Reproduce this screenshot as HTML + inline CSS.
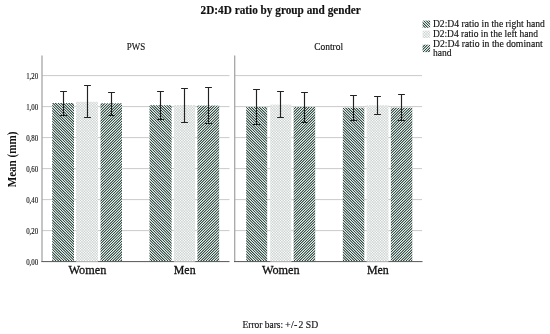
<!DOCTYPE html>
<html><head><meta charset="utf-8"><title>2D:4D ratio by group and gender</title>
<style>
html,body{margin:0;padding:0;background:#fff;}
svg{display:block;font-family:"Liberation Serif","DejaVu Serif",serif;}
</style></head><body>
<svg width="550" height="334" viewBox="0 0 550 334">
<defs>
<pattern id="pa" patternUnits="userSpaceOnUse" width="8" height="8" shape-rendering="crispEdges"><rect width="8" height="8" fill="#e4ece9"/><path fill="#e4ece9" d="M2 0h1v1h-1zM4 0h1v1h-1zM7 0h1v1h-1zM0 1h1v1h-1zM3 1h1v1h-1zM5 1h1v1h-1zM1 2h1v1h-1zM4 2h1v1h-1zM6 2h1v1h-1zM2 3h1v1h-1zM5 3h1v1h-1zM7 3h1v1h-1zM0 4h1v1h-1zM3 4h1v1h-1zM6 4h1v1h-1zM1 5h1v1h-1zM4 5h1v1h-1zM7 5h1v1h-1zM0 6h1v1h-1zM2 6h1v1h-1zM5 6h1v1h-1zM1 7h1v1h-1zM3 7h1v1h-1zM6 7h1v1h-1z"/><path fill="#a2b0ac" d="M1 0h1v1h-1zM2 1h1v1h-1zM3 2h1v1h-1zM4 3h1v1h-1zM5 4h1v1h-1zM6 5h1v1h-1zM7 6h1v1h-1zM0 7h1v1h-1z"/><path fill="#81918d" d="M5 0h1v1h-1zM6 1h1v1h-1zM7 2h1v1h-1zM0 3h1v1h-1zM1 4h1v1h-1zM2 5h1v1h-1zM3 6h1v1h-1zM4 7h1v1h-1z"/><path fill="#4f645f" d="M6 0h1v1h-1zM7 1h1v1h-1zM0 2h1v1h-1zM1 3h1v1h-1zM2 4h1v1h-1zM3 5h1v1h-1zM4 6h1v1h-1zM5 7h1v1h-1z"/><path fill="#2e4640" d="M0 0h1v1h-1zM3 0h1v1h-1zM1 1h1v1h-1zM4 1h1v1h-1zM2 2h1v1h-1zM5 2h1v1h-1zM3 3h1v1h-1zM6 3h1v1h-1zM4 4h1v1h-1zM7 4h1v1h-1zM0 5h1v1h-1zM5 5h1v1h-1zM1 6h1v1h-1zM6 6h1v1h-1zM2 7h1v1h-1zM7 7h1v1h-1z"/></pattern>
<pattern id="pc" patternUnits="userSpaceOnUse" width="8" height="8" shape-rendering="crispEdges"><rect width="8" height="8" fill="#e4ece9"/><path fill="#e4ece9" d="M1 0h1v1h-1zM3 0h1v1h-1zM6 0h1v1h-1zM0 1h1v1h-1zM2 1h1v1h-1zM5 1h1v1h-1zM1 2h1v1h-1zM4 2h1v1h-1zM7 2h1v1h-1zM0 3h1v1h-1zM3 3h1v1h-1zM6 3h1v1h-1zM2 4h1v1h-1zM5 4h1v1h-1zM7 4h1v1h-1zM1 5h1v1h-1zM4 5h1v1h-1zM6 5h1v1h-1zM0 6h1v1h-1zM3 6h1v1h-1zM5 6h1v1h-1zM2 7h1v1h-1zM4 7h1v1h-1zM7 7h1v1h-1z"/><path fill="#91a19c" d="M0 0h1v1h-1zM4 0h1v1h-1zM3 1h1v1h-1zM7 1h1v1h-1zM2 2h1v1h-1zM6 2h1v1h-1zM1 3h1v1h-1zM5 3h1v1h-1zM0 4h1v1h-1zM4 4h1v1h-1zM3 5h1v1h-1zM7 5h1v1h-1zM2 6h1v1h-1zM6 6h1v1h-1zM1 7h1v1h-1zM5 7h1v1h-1z"/><path fill="#3f554f" d="M5 0h1v1h-1zM7 0h1v1h-1zM4 1h1v1h-1zM6 1h1v1h-1zM3 2h1v1h-1zM5 2h1v1h-1zM2 3h1v1h-1zM4 3h1v1h-1zM1 4h1v1h-1zM3 4h1v1h-1zM0 5h1v1h-1zM2 5h1v1h-1zM1 6h1v1h-1zM7 6h1v1h-1zM0 7h1v1h-1zM6 7h1v1h-1z"/><path fill="#2e4640" d="M2 0h1v1h-1zM1 1h1v1h-1zM0 2h1v1h-1zM7 3h1v1h-1zM6 4h1v1h-1zM5 5h1v1h-1zM4 6h1v1h-1zM3 7h1v1h-1z"/></pattern>
<pattern id="pb" patternUnits="userSpaceOnUse" width="8" height="8" shape-rendering="crispEdges"><rect width="8" height="8" fill="#ffffff"/><path fill="#ffffff" d="M4 0h1v1h-1zM0 4h1v1h-1z"/><path fill="#f7f8f7" d="M1 0h1v1h-1zM7 0h1v1h-1zM0 1h1v1h-1zM4 3h1v1h-1zM3 4h1v1h-1zM5 4h1v1h-1zM4 5h1v1h-1zM0 7h1v1h-1z"/><path fill="#eff1f0" d="M3 1h1v1h-1zM5 1h1v1h-1zM1 3h1v1h-1zM7 3h1v1h-1zM1 5h1v1h-1zM7 5h1v1h-1zM3 7h1v1h-1zM5 7h1v1h-1z"/><path fill="#e7eae8" d="M2 0h1v1h-1zM6 1h1v1h-1zM0 2h1v1h-1zM3 2h1v1h-1zM2 3h1v1h-1zM6 4h1v1h-1zM1 6h1v1h-1zM4 6h1v1h-1zM7 6h1v1h-1zM6 7h1v1h-1z"/><path fill="#dee3e1" d="M6 0h1v1h-1zM2 1h1v1h-1zM1 2h1v1h-1zM2 2h1v1h-1zM4 2h1v1h-1zM5 2h1v1h-1zM6 2h1v1h-1zM7 2h1v1h-1zM6 3h1v1h-1zM2 4h1v1h-1zM2 5h1v1h-1zM6 5h1v1h-1zM0 6h1v1h-1zM2 6h1v1h-1zM3 6h1v1h-1zM5 6h1v1h-1zM6 6h1v1h-1zM2 7h1v1h-1z"/><path fill="#d6dcd9" d="M1 1h1v1h-1zM7 1h1v1h-1zM3 3h1v1h-1zM5 3h1v1h-1zM3 5h1v1h-1zM5 5h1v1h-1zM1 7h1v1h-1zM7 7h1v1h-1z"/><path fill="#ced5d2" d="M3 0h1v1h-1zM5 0h1v1h-1zM4 1h1v1h-1zM0 3h1v1h-1zM1 4h1v1h-1zM7 4h1v1h-1zM0 5h1v1h-1zM4 7h1v1h-1z"/><path fill="#c6ceca" d="M0 0h1v1h-1zM4 4h1v1h-1z"/></pattern>
</defs>
<rect width="550" height="334" fill="#fff"/>

<line x1="42" x2="229.5" y1="230.6" y2="230.6" stroke="#cbcbcb" stroke-width="1"/>
<line x1="235" x2="422" y1="230.6" y2="230.6" stroke="#cbcbcb" stroke-width="1"/>
<line x1="42" x2="229.5" y1="199.6" y2="199.6" stroke="#cbcbcb" stroke-width="1"/>
<line x1="235" x2="422" y1="199.6" y2="199.6" stroke="#cbcbcb" stroke-width="1"/>
<line x1="42" x2="229.5" y1="168.6" y2="168.6" stroke="#cbcbcb" stroke-width="1"/>
<line x1="235" x2="422" y1="168.6" y2="168.6" stroke="#cbcbcb" stroke-width="1"/>
<line x1="42" x2="229.5" y1="137.6" y2="137.6" stroke="#cbcbcb" stroke-width="1"/>
<line x1="235" x2="422" y1="137.6" y2="137.6" stroke="#cbcbcb" stroke-width="1"/>
<line x1="42" x2="229.5" y1="106.6" y2="106.6" stroke="#cbcbcb" stroke-width="1"/>
<line x1="235" x2="422" y1="106.6" y2="106.6" stroke="#cbcbcb" stroke-width="1"/>
<line x1="42" x2="229.5" y1="75.6" y2="75.6" stroke="#cbcbcb" stroke-width="1"/>
<line x1="235" x2="422" y1="75.6" y2="75.6" stroke="#cbcbcb" stroke-width="1"/>
<rect x="52.2" y="103.0" width="21.8" height="158.6" fill="url(#pa)"/>
<rect x="76.0" y="101.8" width="22.0" height="159.8" fill="url(#pb)"/>
<rect x="100.5" y="103.3" width="21.5" height="158.3" fill="url(#pc)"/>
<rect x="149.5" y="105.2" width="22.1" height="156.4" fill="url(#pa)"/>
<rect x="173.9" y="105.0" width="21.3" height="156.6" fill="url(#pb)"/>
<rect x="197.4" y="105.6" width="21.8" height="156.0" fill="url(#pc)"/>
<rect x="246.2" y="107.0" width="21.0" height="154.6" fill="url(#pa)"/>
<rect x="270.2" y="104.6" width="21.2" height="157.0" fill="url(#pb)"/>
<rect x="293.6" y="107.0" width="21.6" height="154.6" fill="url(#pc)"/>
<rect x="342.8" y="107.7" width="21.5" height="153.9" fill="url(#pa)"/>
<rect x="366.6" y="105.3" width="21.9" height="156.3" fill="url(#pb)"/>
<rect x="390.8" y="107.7" width="21.5" height="153.9" fill="url(#pc)"/>
<line x1="42" x2="42" y1="55.4" y2="262.1" stroke="#a6a6a6" stroke-width="1.3"/>
<line x1="234.7" x2="234.7" y1="55.4" y2="262.1" stroke="#a6a6a6" stroke-width="1.3"/>
<line x1="41.4" x2="229.5" y1="261.6" y2="261.6" stroke="#555" stroke-width="1"/>
<line x1="234" x2="422.5" y1="261.6" y2="261.6" stroke="#555" stroke-width="1"/>
<rect x="76.0" y="260.9" width="22.0" height="1.4" fill="#fff" opacity="0.5"/>
<rect x="173.9" y="260.9" width="21.3" height="1.4" fill="#fff" opacity="0.5"/>
<rect x="270.2" y="260.9" width="21.2" height="1.4" fill="#fff" opacity="0.5"/>
<rect x="366.6" y="260.9" width="21.9" height="1.4" fill="#fff" opacity="0.5"/>
<path d="M63.5 91.5V115.5M60.1 91.5H66.9M60.1 115.5H66.9" stroke="#222" stroke-width="1.15" fill="none"/>
<path d="M87.5 85.5V117.5M84.1 85.5H90.9M84.1 117.5H90.9" stroke="#222" stroke-width="1.15" fill="none"/>
<path d="M111.5 92.5V115.5M108.1 92.5H114.9M108.1 115.5H114.9" stroke="#222" stroke-width="1.15" fill="none"/>
<path d="M160.5 91.5V119.5M157.1 91.5H163.9M157.1 119.5H163.9" stroke="#222" stroke-width="1.15" fill="none"/>
<path d="M184.5 88.5V122.5M181.1 88.5H187.9M181.1 122.5H187.9" stroke="#222" stroke-width="1.15" fill="none"/>
<path d="M208.5 87.5V123.5M205.1 87.5H211.9M205.1 123.5H211.9" stroke="#222" stroke-width="1.15" fill="none"/>
<path d="M256.5 89.5V124.5M253.1 89.5H259.9M253.1 124.5H259.9" stroke="#222" stroke-width="1.15" fill="none"/>
<path d="M280.5 91.5V117.5M277.1 91.5H283.9M277.1 117.5H283.9" stroke="#222" stroke-width="1.15" fill="none"/>
<path d="M304.5 92.5V122.5M301.1 92.5H307.9M301.1 122.5H307.9" stroke="#222" stroke-width="1.15" fill="none"/>
<path d="M353.5 95.5V120.5M350.1 95.5H356.9M350.1 120.5H356.9" stroke="#222" stroke-width="1.15" fill="none"/>
<path d="M377.5 96.5V114.5M374.1 96.5H380.9M374.1 114.5H380.9" stroke="#222" stroke-width="1.15" fill="none"/>
<path d="M401.5 94.5V120.5M398.1 94.5H404.9M398.1 120.5H404.9" stroke="#222" stroke-width="1.15" fill="none"/>
<text x="26.2" y="264.7" font-size="7.3" textLength="12" lengthAdjust="spacingAndGlyphs" fill="#222" stroke="#222" stroke-width="0.15">0,00</text>
<text x="26.2" y="233.7" font-size="7.3" textLength="12" lengthAdjust="spacingAndGlyphs" fill="#222" stroke="#222" stroke-width="0.15">0,20</text>
<text x="26.2" y="202.7" font-size="7.3" textLength="12" lengthAdjust="spacingAndGlyphs" fill="#222" stroke="#222" stroke-width="0.15">0,40</text>
<text x="26.2" y="171.7" font-size="7.3" textLength="12" lengthAdjust="spacingAndGlyphs" fill="#222" stroke="#222" stroke-width="0.15">0,60</text>
<text x="26.2" y="140.7" font-size="7.3" textLength="12" lengthAdjust="spacingAndGlyphs" fill="#222" stroke="#222" stroke-width="0.15">0,80</text>
<text x="26.2" y="109.7" font-size="7.3" textLength="12" lengthAdjust="spacingAndGlyphs" fill="#222" stroke="#222" stroke-width="0.15">1,00</text>
<text x="26.2" y="78.7" font-size="7.3" textLength="12" lengthAdjust="spacingAndGlyphs" fill="#222" stroke="#222" stroke-width="0.15">1,20</text>
<text x="200.6" y="14.1" font-size="11.6" textLength="160.2" lengthAdjust="spacingAndGlyphs" fill="#111" stroke="#111" stroke-width="0.15" font-weight="bold">2D:4D ratio by group and gender</text>
<text x="126.8" y="50.3" font-size="10.2" textLength="18.4" lengthAdjust="spacingAndGlyphs" fill="#111" stroke="#111" stroke-width="0.15">PWS</text>
<text x="314.2" y="50.3" font-size="10.4" textLength="28.9" lengthAdjust="spacingAndGlyphs" fill="#111" stroke="#111" stroke-width="0.15">Control</text>
<text x="68.5" y="274.0" font-size="13" textLength="37.8" lengthAdjust="spacingAndGlyphs" fill="#111" stroke="#111" stroke-width="0.3">Women</text>
<text x="173.8" y="274.0" font-size="13" textLength="21.8" lengthAdjust="spacingAndGlyphs" fill="#111" stroke="#111" stroke-width="0.3">Men</text>
<text x="261.9" y="274.0" font-size="13" textLength="37.8" lengthAdjust="spacingAndGlyphs" fill="#111" stroke="#111" stroke-width="0.3">Women</text>
<text x="366.9" y="274.0" font-size="13" textLength="21.9" lengthAdjust="spacingAndGlyphs" fill="#111" stroke="#111" stroke-width="0.3">Men</text>
<text x="242.6" y="328.1" font-size="10" textLength="40.5" lengthAdjust="spacingAndGlyphs" fill="#111" stroke="#111" stroke-width="0.15">Error bars:</text>
<text x="285.0 291.0 294.0" y="328.1" font-size="10" fill="#111" stroke="#111" stroke-width="0.15">+/-</text>
<text x="298.6" y="328.1" font-size="10" textLength="19.6" lengthAdjust="spacingAndGlyphs" fill="#111" stroke="#111" stroke-width="0.15">2 SD</text>
<text transform="translate(16.4,187.3) rotate(-90)" font-size="11.8" font-weight="bold" textLength="55.7" lengthAdjust="spacingAndGlyphs" fill="#111">Mean (mm)</text>
<rect x="422.6" y="20.6" width="7.5" height="7.2" fill="url(#pa)"/>
<rect x="422.6" y="30.6" width="7.5" height="7.4" fill="url(#pb)"/>
<rect x="422.6" y="44.7" width="7.5" height="7.4" fill="url(#pc)"/>
<text x="432.9" y="27.2" font-size="10" textLength="112" lengthAdjust="spacingAndGlyphs" fill="#111" stroke="#111" stroke-width="0.15">D2:D4 ratio in the right hand</text>
<text x="432.9" y="37.0" font-size="10" textLength="105.1" lengthAdjust="spacingAndGlyphs" fill="#111" stroke="#111" stroke-width="0.15">D2:D4 ratio in the left hand</text>
<text x="432.9" y="46.7" font-size="10" textLength="109.9" lengthAdjust="spacingAndGlyphs" fill="#111" stroke="#111" stroke-width="0.15">D2:D4 ratio in the dominant</text>
<text x="432.9" y="55.7" font-size="10" textLength="18.6" lengthAdjust="spacingAndGlyphs" fill="#111" stroke="#111" stroke-width="0.15">hand</text>
</svg></body></html>
